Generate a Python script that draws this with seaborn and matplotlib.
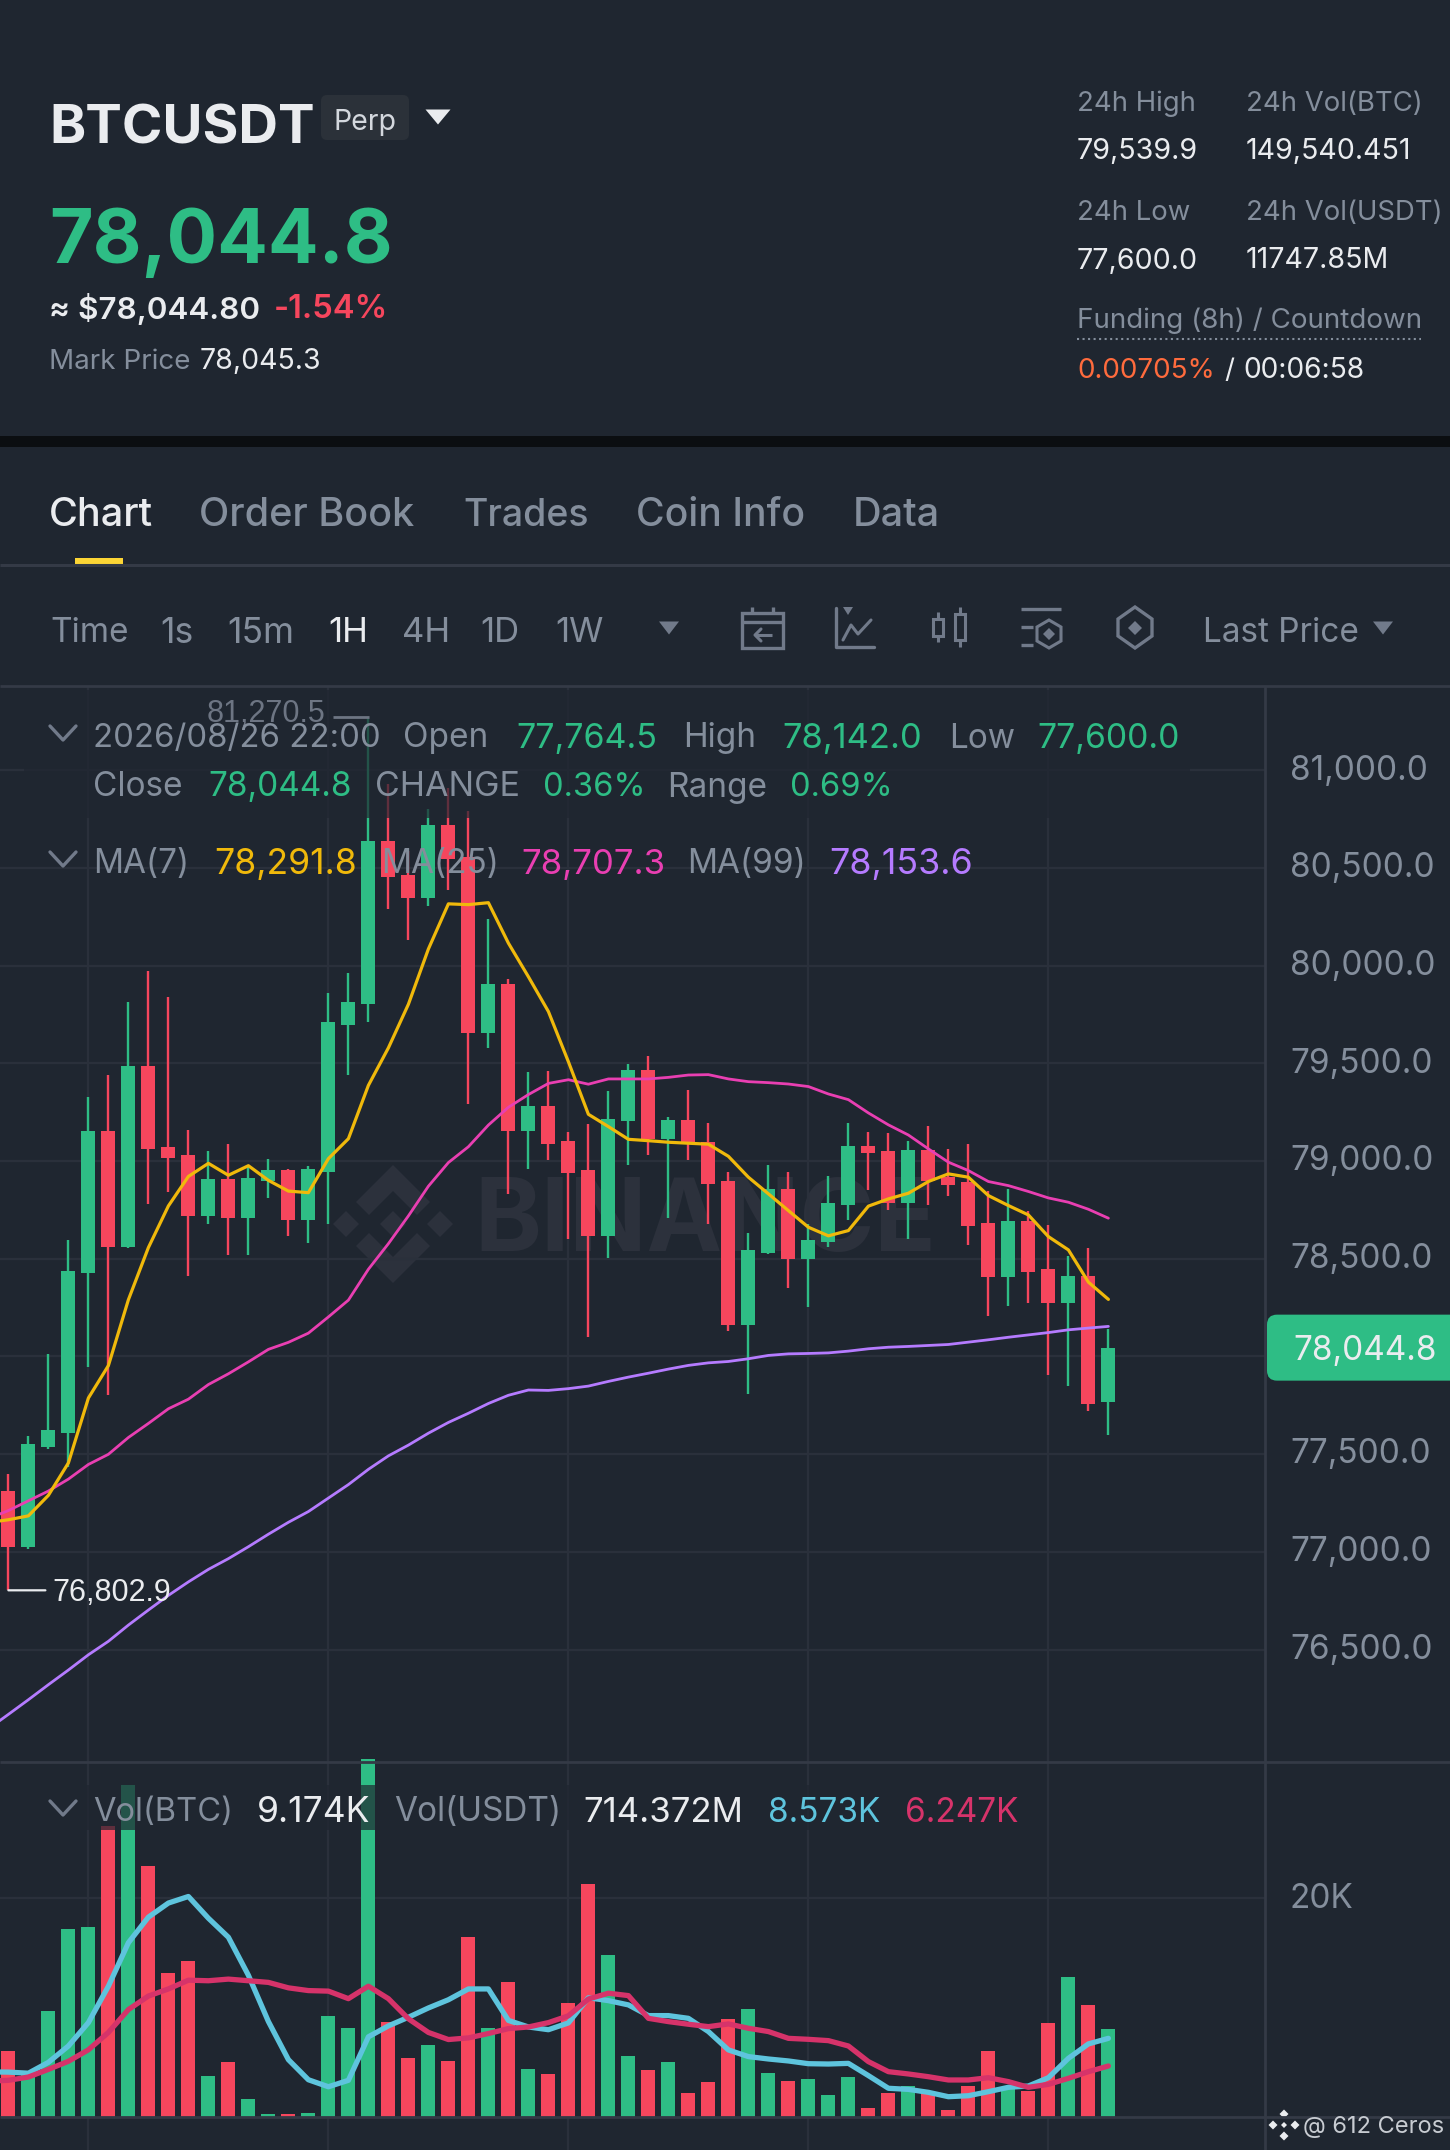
import numpy as np
import pandas as pd
import seaborn as sns
import matplotlib
matplotlib.use("Agg")
import matplotlib.pyplot as plt
from matplotlib.patches import Rectangle, Polygon, FancyBboxPatch

BG = "#1f2630"
GRID = "#2a303b"
SEP = "#343a46"
GREEN = "#2ebd85"
RED = "#f6465d"
GRAY = "#848e9c"
WHITE = "#eaecef"
C_MA7 = "#f0b90b"
C_MA25 = "#e93fb2"
C_MA99 = "#b57bff"
C_VF = "#5ec4dd"
C_VS = "#d6336a"

open_ = [77311,77023,77538,77607,78425,79154,78561,79488,79073,79029,78719,78909,78709,78899,78952,78699,78946,79696,79802,
         80640,80466,80344,80719,80557,79656,79907,79154,79282,79103,78956,78618,79203,79468,79113,79210,79096,78896,78162,
         78528,78855,78497,78584,78774,79075,79053,78784,79058,78917,78893,78682,78407,78692,78446,78272,78410,77764.5]
close = [77023,77552,77621,78436,79154,78561,79488,79063,79016,78719,78909,78709,78913,78952,78699,78960,79711,79814,80640,
         80454,80344,80719,80547,79656,79907,79154,79282,79089,78941,78618,79217,79468,79113,79210,79087,78883,78162,78542,
         78855,78497,78596,78786,79075,79040,78784,79058,78900,78879,78668,78407,78692,78434,78272,78410,77757,78044.8]
high = [77400,77593,78014,78595,79326,79441,79812,79974,79838,79160,79053,79089,78968,79012,78958,78972,79858,79960,81270.5,
        80931,80587,80800,80911,80790,80237,79929,79454,79462,79150,79190,79357,79497,79538,79227,79365,79195,78942,78632,
        78977,78946,78678,78924,79197,79147,79145,79101,79178,79062,79086,78845,78857,78746,78675,78516,78555,78142]
low = [76802.9,77012,77524,77436,77947,77801,78555,78780,78840,78411,78678,78520,78520,78810,78618,78581,78678,79441,79711,
       80288,80130,80304,80385,79292,79579,78830,78958,79006,78600,78098,78504,78977,79033,78709,79007,78678,78129,77809,
       78525,78351,78252,78559,78699,78852,78750,78600,78774,78823,78569,78209,78260,78272,77906,77848,77720,77600]

# moving averages: first reading lies just off the left edge
ma7 = [77150,77164,77184,77289,77455,77787,77953,78290,78557,78770,78921,78988,78927,78976,78901,78846,78838,79012,79114,79387,
       79579,79802,80085,80316,80312,80322,80115,79943,79765,79508,79239,79176,79111,79104,79096,79091,79086,79024,78917,
       78832,78746,78661,78617,78644,78769,78806,78835,78895,78934,78917,78823,78772,78724,78613,78545,78380,78291.8]
ma25 = [77170,77211,77261,77311,77372,77447,77499,77585,77657,77732,77781,77856,77911,77972,78036,78072,78119,78202,78288,
        78446,78577,78719,78871,78992,79073,79184,79275,79340,79397,79416,79393,79420,79420,79420,79428,79440,79442,79420,
        79406,79401,79394,79381,79343,79314,79246,79185,79133,79062,78994,78951,78895,78874,78844,78811,78789,78753,78707.3]
ma99 = [76094,76168,76243,76320,76395,76473,76542,76625,76702,76777,76846,76910,76965,77026,77090,77151,77206,77275,77344,
        77422,77491,77546,77607,77662,77709,77759,77801,77828,77826,77835,77848,77872,77894,77914,77935,77954,77967,77974,
        77988,78005,78013,78015,78018,78027,78039,78047,78051,78056,78061,78073,78085,78098,78110,78122,78136,78145,78153.6]

volume = [5970,3980,9700,17160,17360,26600,30350,22930,13180,14280,3730,4975,1590,250,250,300,9250,8110,32730,8700,5370,6570,
          5070,16420,8110,12290,4380,3880,10420,21260,14750,5590,4270,5040,2140,3140,8910,9830,3970,3240,3420,2015,3660,760,
          2200,2840,2140,610,2810,6010,2750,2380,8610,12760,10230,8000]
vol_fast = [4100,4080,3980,4975,6470,8610,11940,15920,18260,19550,20150,18160,16420,12940,8710,5220,3380,2740,3330,7310,8310,
            9100,9950,10700,11690,11690,8810,8210,7960,8580,10880,10620,10230,9250,9250,9000,7790,6110,5500,5280,5100,4850,
            4820,4880,3760,2600,2500,2230,1830,1920,2290,2690,2810,3570,5340,6660,7170]
vol_slow = [3250,3330,3630,4330,5070,6120,7710,9800,11040,11690,12490,12440,12590,12440,12290,11790,11540,11490,10800,11940,
            10800,8960,7710,7060,7210,7610,8060,8210,8610,9230,10770,11300,11080,9000,8700,8460,8240,8490,8090,7790,7170,
            7080,6960,6470,5040,4120,3910,3660,3360,3360,3570,3210,2690,2960,3510,4120,4640]

price_ticks = [81000, 80500, 80000, 79500, 79000, 78500, 78000, 77500, 77000, 76500]
tick_labels = ["81,000.0", "80,500.0", "80,000.0", "79,500.0", "79,000.0", "78,500.0", "", "77,500.0", "77,000.0", "76,500.0"]
vgrid_idx = [4, 16, 28, 40, 52]
last_price = 78044.8
top_price = 81270.5
bottom_price = 76802.9

sns.set_theme(style="dark", rc={"figure.facecolor": BG, "axes.facecolor": BG})
FONT = ["Inter", "DejaVu Sans"]
plt.rcParams["font.family"] = FONT

W, H = 1450, 2150
fig = plt.figure(figsize=(W / 100, H / 100), dpi=100, facecolor=BG)


def box(x0, y0, x1, y1, z):
    ax = fig.add_axes([x0 / W, 1 - y1 / H, (x1 - x0) / W, (y1 - y0) / H], zorder=z)
    ax.patch.set_alpha(0)
    for s in ax.spines.values():
        s.set_visible(False)
    ax.tick_params(left=False, bottom=False, labelleft=False, labelbottom=False)
    return ax


back = box(0, 0, W, H, 0)
back.set_xlim(0, W); back.set_ylim(H, 0)
ui = box(0, 0, W, H, 5)
ui.set_xlim(0, W); ui.set_ylim(H, 0)

# watermark
def diamond(ax, cx, cy, r, color):
    ax.add_patch(Polygon([(cx - r, cy), (cx, cy - r), (cx + r, cy), (cx, cy + r)], color=color, lw=0))

WM = "#2c313c"
for dx, r in [(-47, 13), (0, 13), (47, 13)]:
    diamond(back, 393 + dx, 1224, r, WM)
for sgn in (-1, 1):
    back.add_patch(Polygon([(393, 1224 + sgn * 59), (393 + 37, 1224 + sgn * 22), (393 + 24, 1224 + sgn * 9),
                            (393, 1224 + sgn * 33), (393 - 24, 1224 + sgn * 9), (393 - 37, 1224 + sgn * 22)],
                           color=WM, lw=0))
back.text(705, 1224, "BINANCE", color=WM, fontsize=73, fontweight="bold", ha="center", va="center")

# ---- price pane ----
PX0, PX1 = 0, 1265
PY0, PY1 = 686, 1762
idx = np.arange(len(open_))
x_ma = np.arange(-1, len(open_))
px_per_price = 0.1954
ax = box(PX0, PY0, PX1, PY1, 1)
df = pd.DataFrame({"i": idx, "o": open_, "c": close, "h": high, "l": low})
df["up"] = df.c >= df.o
df["bot"] = df[["o", "c"]].min(axis=1)
df["size"] = (df.c - df.o).abs()

for up, col in [(True, GREEN), (False, RED)]:
    sub = df[df.up == up]
    ax.vlines(sub.i, sub.l, sub.h, color=col, lw=1.7, zorder=2)
    sns.barplot(data=sub, x="i", y="size", bottom=sub.bot.values, native_scale=True, width=0.7,
                color=col, saturation=1, errorbar=None, ax=ax, zorder=3, linewidth=0)

for series, col, lw in [(ma99, C_MA99, 2.0), (ma25, C_MA25, 2.0), (ma7, C_MA7, 2.3)]:
    sns.lineplot(x=x_ma, y=series, color=col, linewidth=lw, estimator=None, sort=False, ax=ax, zorder=4)

ax.set_xlim(-0.42, (PX1 - 8.4) / 20)
ax.set_ylim(81000 - (PY1 - 770.2) / px_per_price, 81000 + (770.2 - PY0) / px_per_price)
ax.set_yticks(price_ticks)
ax.set_xticks(vgrid_idx)
ax.grid(True, color=GRID, lw=1.6, zorder=0)
ax.set_axisbelow(True)
ax.set_xlabel(""); ax.set_ylabel("")

# low tag
ax.annotate("", xy=(0, bottom_price), xytext=(37, 0), textcoords="offset pixels",
            arrowprops=dict(arrowstyle="-", color=WHITE, lw=1.6, shrinkA=0, shrinkB=0), zorder=6)
ax.annotate(f"{bottom_price:,.1f}", xy=(0, bottom_price), xytext=(44, -3), textcoords="offset pixels",
            color=WHITE, fontsize=22, ha="left", va="center", family=["Liberation Sans"], zorder=6)

# ---- volume pane ----
VY0, VY1 = 1755, H
vol_scale = 91.5
vx = box(PX0, VY0, PX1, VY1, 2)
vdf = pd.DataFrame({"i": idx, "v": volume, "up": df.up})
sns.barplot(data=vdf, x="i", y="v", hue="up", palette={True: GREEN, False: RED}, native_scale=True, dodge=False,
            width=0.7, saturation=1, errorbar=None, legend=False, ax=vx, zorder=3, linewidth=0)
sns.lineplot(x=x_ma, y=vol_fast, color=C_VF, linewidth=3.8, estimator=None, sort=False, ax=vx, zorder=4)
sns.lineplot(x=x_ma, y=vol_slow, color=C_VS, linewidth=3.8, estimator=None, sort=False, ax=vx, zorder=5)
vx.set_xlim(-0.42, (PX1 - 8.4) / 20)
vx.set_ylim(-(VY1 - 2116.7) * vol_scale, (2116.7 - VY0) * vol_scale)
vx.set_yticks([20000])
vx.set_xticks(vgrid_idx)
vx.grid(True, color=GRID, lw=1.6, zorder=0)
vx.set_axisbelow(True)
vx.set_xlabel(""); vx.set_ylabel("")


def T(x, y, s, color=GRAY, size=24, weight="normal", ha="left"):
    ui.text(x, y, s, color=color, fontsize=size, fontweight=weight, ha=ha, va="center_baseline")


def HL(x0, x1, y, color=SEP, lw=2.0, style="-"):
    ui.plot([x0, x1], [y, y], color=color, lw=lw, ls=style, solid_capstyle="butt")


def VL(x, y0, y1, color=SEP, lw=2.0):
    ui.plot([x, x], [y0, y1], color=color, lw=lw, solid_capstyle="butt")


def tri(x, y, w, h, color):
    ui.add_patch(Polygon([(x - w / 2, y - h / 2), (x + w / 2, y - h / 2), (x, y + h / 2)], color=color, lw=0))


# header band
ui.add_patch(Rectangle((0, 436), W, 11, color="#0b0e11", lw=0))
T(49, 124, "BTCUSDT", WHITE, 39.5, "bold")
ui.add_patch(FancyBboxPatch((321, 95), 88, 45, boxstyle="round,pad=0,rounding_size=6", color="#2b3139", lw=0))
T(365, 119, "Perp", "#d4d8de", 20.5, ha="center")
tri(438, 117, 25, 15, WHITE)
T(49, 236, "78,044.8", GREEN, 54, "bold")
T(49, 306, "≈ $78,044.80", WHITE, 22.6, "semibold")
T(274, 306, "-1.54%", RED, 23.5, "semibold")
T(49, 359, "Mark Price", GRAY, 20)
T(200, 359, "78,045.3", WHITE, 20.5)

for x, a, b, c, d in [(1077, "24h High", "79,539.9", "24h Low", "77,600.0"),
                      (1246, "24h Vol(BTC)", "149,540.451", "24h Vol(USDT)", "11747.85M")]:
    T(x, 101, a, GRAY, 19.8)
    T(x, 149, b, WHITE, 20.6)
    T(x, 210, c, GRAY, 19.8)
    T(x, 258, d, WHITE, 20.6)
T(1077, 318, "Funding (8h) / Countdown", GRAY, 20)
HL(1077, 1421, 339, GRAY, 1.5, ":")
T(1077, 368, "0.00705%", "#ff6b3d", 20)
T(1224, 368, "/", WHITE, 20)
T(1243, 368, "00:06:58", WHITE, 20.3)

# tabs
for x, s, col, fs in [(49, "Chart", WHITE, 28.5), (199, "Order Book", GRAY, 28.5), (463, "Trades", GRAY, 27),
                      (636, "Coin Info", GRAY, 28.2), (853, "Data", GRAY, 28.5)]:
    T(x, 512, s, col, fs, "medium")
HL(0, W, 565, SEP, 2.2)
ui.add_patch(Rectangle((75, 558), 48, 9, color="#fcd535", lw=0))

# toolbar
for x, s, col, fs in [(50, "Time", GRAY, 24), (160, "1s", GRAY, 25.5), (227, "15m", GRAY, 25.5), (328, "1H", WHITE, 25),
                      (402, "4H", GRAY, 25), (480, "1D", GRAY, 25), (555, "1W", GRAY, 25), (1203, "Last Price", GRAY, 24)]:
    T(x, 630, s, col, fs)
tri(669, 628, 20, 13, "#717a8a")
tri(1383, 628, 20, 13, "#717a8a")
IC = "#717a8a"
# calendar
ui.add_patch(Rectangle((742, 613), 41, 35, fill=False, ec=IC, lw=2.4))
HL(742, 783, 622, IC, 2.4)
VL(752, 607, 613, IC, 2.4); VL(773, 607, 613, IC, 2.4)
HL(755, 772, 635, IC, 2.2)
ui.plot([761, 755, 761], [629, 635, 641], color=IC, lw=2.2)
# indicators
ui.plot([836, 836, 874], [608, 647, 647], color=IC, lw=2.4)
ui.plot([843, 851, 858, 871], [640, 625, 634, 620], color=IC, lw=2.2)
tri(848, 611, 10, 8, IC)
# candles
VL(938, 612, 642, IC, 2.2); VL(960, 607, 647, IC, 2.2)
ui.add_patch(Rectangle((933, 619), 10, 17, fc=BG, ec=IC, lw=2.2, zorder=3))
ui.add_patch(Rectangle((955, 614), 10, 26, fc=BG, ec=IC, lw=2.2, zorder=3))
# settings
HL(1021, 1061, 609, IC, 2.4); HL(1021, 1033, 627, IC, 2.4); HL(1021, 1033, 645, IC, 2.4)
ui.add_patch(Polygon([(1049, 620), (1061, 627), (1061, 641), (1049, 648), (1037, 641), (1037, 627)], fill=False, ec=IC, lw=2.2))
diamond(ui, 1049, 634, 6, IC)
# hexagon
ui.add_patch(Polygon([(1135, 607), (1152, 619), (1152, 636), (1135, 648), (1118, 636), (1118, 619)], fill=False, ec=IC, lw=2.4))
diamond(ui, 1135, 628, 7, IC)

# frames
HL(0, W, 686, SEP, 2.0)
HL(0, W, 1762, SEP, 2.0)
HL(0, W, 2117, SEP, 2.0)
VL(1265, 686, H, SEP, 2.0)

# legend veils
ui.add_patch(Rectangle((24, 690), 1166, 128, color=BG, alpha=0.7, lw=0))
ui.add_patch(Rectangle((24, 1785), 1000, 45, color=BG, alpha=0.7, lw=0))

# high tag (sits under the legend text, above the veil)
yh = 770.2 + (81000 - top_price) * px_per_price
HL(333, 369, yh, "#6d7583", 2.0)
ui.text(325, yh - 3, f"{top_price:,.1f}", color="#6d7583", fontsize=22, ha="right", va="center", family=["Liberation Sans"])


def chevron(x, y):
    ui.plot([x - 13, x, x + 13], [y - 7, y + 7, y - 7], color="#717a8a", lw=2.4)


chevron(63, 733)
T(93, 735, "2026/08/26 22:00", GRAY, 23.7)
for x, s, col, fs in [(403, "Open", GRAY, 24), (516, "77,764.5", GREEN, 24.5), (683, "High", GRAY, 24), (782, "78,142.0", GREEN, 24.8),
                      (949, "Low", GRAY, 24), (1037, "77,600.0", GREEN, 24.3)]:
    T(x, 735, s, col, fs)
for x, s, col, fs in [(93, "Close", GRAY, 24), (208, "78,044.8", GREEN, 24), (375, "CHANGE", GRAY, 24.5), (543, "0.36%", GREEN, 23.5),
                      (667, "Range", GRAY, 24), (790, "0.69%", GREEN, 23.5)]:
    T(x, 784, s, col, fs)
chevron(63, 859)
for x, s, col, fs in [(93, "MA(7)", GRAY, 24), (214, "78,291.8", C_MA7, 25.6), (381, "MA(25)", GRAY, 24), (521, "78,707.3", C_MA25, 25),
                      (687, "MA(99)", GRAY, 24), (829, "78,153.6", C_MA99, 25.8)]:
    T(x, 861, s, col, fs)
chevron(63, 1808)
for x, s, col, fs in [(93, "Vol(BTC)", GRAY, 23.5), (257, "9.174K", WHITE, 25.5), (394, "Vol(USDT)", GRAY, 24), (583, "714.372M", WHITE, 25),
                      (768, "8.573K", C_VF, 24), (905, "6.247K", C_VS, 24)]:
    T(x, 1809, s, col, fs)

# axis labels
for tick, lab in zip(price_ticks, tick_labels):
    if lab:
        T(1290, 767 + (81000 - tick) * px_per_price, lab, GRAY)
T(1290, 1895, "20K", GRAY)
yl = 770.2 + (81000 - last_price) * px_per_price
ui.add_patch(FancyBboxPatch((1267, yl - 33), 200, 66, boxstyle="round,pad=0,rounding_size=10", color=GREEN, lw=0))
T(1365, yl, f"{last_price:,.1f}", WHITE, 24, ha="center")

# signature
for dx, dy in [(0, -11), (-11, 0), (11, 0), (0, 11)]:
    diamond(ui, 1284 + dx, 2125 + dy, 4.5, WHITE)
diamond(ui, 1284, 2125, 3, WHITE)
T(1303, 2125, "@ 612 Ceros", "#c8ccd2", 17)

fig.savefig("out.png", dpi=100, facecolor=BG)
